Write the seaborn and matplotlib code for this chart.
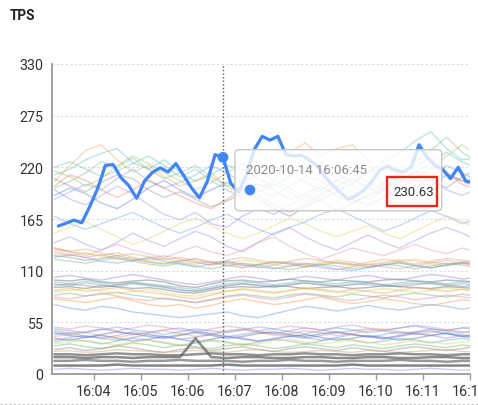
import numpy as np
import pandas as pd
import matplotlib
matplotlib.use("Agg")
import matplotlib.pyplot as plt
import matplotlib.dates as mdates
from matplotlib.patches import FancyBboxPatch, Rectangle, Circle
from matplotlib.lines import Line2D
from matplotlib.transforms import IdentityTransform
import seaborn as sns

# ---------------- data ----------------
TITLE = "TPS"
BG_START = "2020-10-14 16:03:10"   # background series, 20 s step
MAIN_START = "2020-10-14 16:03:15"  # highlighted series, 10 s step
HOVER_TIME = "2020-10-14 16:06:45"
HOVER_VALUE = 230.63
Y_TICKS = [0, 55, 110, 165, 220, 275, 330]

main_values = [157.5, 160.5, 163.8, 161, 178, 197, 222, 223, 209, 200.5,
               187, 205.5, 214.5, 219.5, 215, 224, 211, 198, 187.5, 205,
               233.5, 230.63, 203, 193.5, 212, 239, 253, 249, 253, 234,
               232, 233, 228, 222, 210, 201, 193, 186, 190, 196,
               205, 217, 221, 217, 215, 220, 244, 231, 222, 218,
               208, 220, 205, 204]

# high band
h1 = [205, 222, 238, 244, 228, 215, 222, 210, 200, 206, 214, 200, 190, 198, 205, 236, 246, 232, 240, 244, 228, 198, 210, 222, 230, 215, 205, 210]
h2 = [212, 218, 228, 235, 240, 225, 218, 228, 215, 205, 212, 222, 218, 208, 200, 210, 218, 225, 212, 204, 214, 226, 235, 248, 258, 240, 228, 230]
h3 = [198, 205, 214, 226, 220, 230, 218, 208, 214, 222, 210, 200, 206, 196, 188, 200, 210, 206, 196, 202, 215, 220, 212, 226, 238, 252, 236, 226]
h4 = [208, 200, 194, 204, 212, 208, 196, 188, 194, 186, 178, 184, 192, 202, 196, 186, 192, 200, 190, 182, 190, 198, 206, 214, 206, 198, 210, 218]
h5 = [196, 186, 180, 190, 200, 192, 180, 170, 164, 172, 160, 156, 168, 176, 170, 180, 190, 184, 174, 182, 190, 196, 188, 200, 208, 196, 190, 198]
h6 = [186, 194, 202, 196, 208, 218, 206, 198, 204, 212, 222, 214, 204, 212, 222, 214, 204, 196, 206, 214, 204, 196, 206, 216, 210, 222, 214, 206]
h7 = [216, 210, 200, 208, 222, 232, 224, 214, 206, 196, 204, 214, 224, 216, 206, 198, 188, 196, 206, 200, 192, 204, 214, 206, 218, 232, 244, 232]
h8 = [200, 212, 206, 196, 188, 196, 206, 198, 190, 182, 176, 186, 196, 190, 180, 172, 180, 190, 200, 208, 198, 190, 198, 208, 220, 214, 202, 196]
h9 = [190, 198, 192, 182, 176, 186, 198, 206, 196, 188, 196, 204, 196, 186, 176, 168, 178, 186, 194, 186, 180, 188, 198, 190, 200, 212, 206, 198]
h10 = [220, 226, 218, 210, 216, 224, 232, 222, 210, 218, 206, 196, 188, 194, 202, 194, 184, 192, 200, 194, 186, 194, 204, 214, 224, 236, 226, 218]

# scattered middle
m1 = [140, 146, 138, 132, 140, 150, 142, 136, 144, 152, 146, 136, 130, 140, 150, 156, 146, 138, 132, 140, 148, 140, 134, 142, 150, 156, 150, 142]
m2 = [150, 156, 162, 154, 146, 138, 144, 152, 160, 166, 158, 150, 144, 150, 158, 166, 160, 152, 146, 152, 158, 150, 144, 152, 160, 168, 162, 156]
m3 = [168, 160, 154, 160, 166, 172, 164, 156, 150, 156, 164, 170, 162, 154, 148, 156, 162, 170, 176, 168, 160, 152, 158, 166, 174, 168, 160, 166]
m4 = [134, 130, 126, 132, 138, 132, 128, 124, 130, 136, 130, 126, 132, 140, 146, 136, 128, 122, 128, 134, 130, 126, 132, 138, 132, 128, 134, 130]

# band around 105-135
b1 = [132, 130, 128, 126, 129, 124, 121, 123, 119, 117, 120, 118, 115, 117, 120, 118, 116, 118, 121, 119, 116, 118, 120, 122, 119, 117, 119, 121]
b2 = [128, 126, 129, 125, 122, 124, 120, 118, 121, 119, 116, 118, 121, 119, 116, 114, 117, 120, 118, 115, 117, 119, 122, 120, 117, 115, 118, 120]
b3 = [126, 124, 121, 123, 126, 122, 119, 117, 120, 123, 119, 116, 113, 116, 119, 117, 114, 116, 119, 117, 114, 116, 118, 115, 113, 116, 118, 116]
b4 = [134, 131, 133, 129, 126, 128, 125, 122, 124, 121, 118, 121, 124, 121, 118, 120, 123, 121, 118, 116, 119, 122, 120, 117, 120, 123, 121, 119]
b5 = [122, 120, 118, 121, 124, 120, 117, 115, 118, 115, 112, 115, 118, 116, 113, 111, 114, 117, 115, 112, 114, 117, 115, 112, 115, 118, 116, 113]
b6 = [124, 127, 124, 120, 118, 121, 124, 120, 117, 114, 117, 120, 117, 114, 112, 115, 118, 115, 112, 110, 113, 116, 119, 116, 113, 116, 119, 116]
b7 = [130, 127, 124, 127, 123, 120, 123, 126, 122, 119, 116, 119, 116, 113, 116, 119, 116, 113, 111, 114, 117, 114, 112, 115, 118, 121, 118, 115]

# band around 70-104
c1 = [100, 99, 101, 98, 97, 99, 100, 98, 94, 92, 96, 99, 100, 98, 99, 101, 99, 98, 100, 99, 98, 100, 101, 99, 98, 100, 99, 98]
c2 = [92, 93, 91, 94, 93, 91, 92, 90, 87, 86, 89, 92, 93, 92, 94, 93, 91, 92, 93, 91, 92, 94, 93, 92, 91, 93, 92, 91]
c3 = [96, 94, 97, 95, 93, 96, 94, 92, 89, 88, 91, 94, 96, 95, 93, 95, 97, 95, 94, 96, 95, 93, 95, 97, 96, 94, 96, 95]
c4 = [89, 91, 88, 90, 92, 89, 87, 85, 82, 80, 84, 88, 90, 88, 86, 89, 91, 89, 87, 90, 88, 86, 89, 92, 90, 88, 90, 89]
c5 = [84, 86, 83, 85, 87, 84, 82, 80, 78, 76, 79, 83, 85, 83, 81, 84, 86, 84, 82, 85, 83, 81, 84, 86, 84, 82, 85, 83]
c6 = [98, 96, 99, 97, 95, 98, 96, 94, 92, 90, 93, 96, 98, 97, 95, 97, 99, 97, 96, 98, 97, 95, 97, 99, 98, 96, 98, 97]
c7 = [80, 78, 76, 79, 82, 78, 74, 72, 74, 70, 73, 77, 80, 77, 74, 76, 79, 82, 78, 75, 77, 80, 78, 75, 73, 76, 79, 77]
c8 = [103, 105, 102, 100, 103, 106, 103, 100, 97, 95, 98, 101, 104, 102, 99, 101, 104, 102, 100, 103, 105, 102, 100, 103, 106, 104, 101, 103]
c9 = [74, 70, 68, 72, 70, 66, 64, 62, 60, 62, 64, 66, 62, 60, 64, 68, 72, 70, 67, 70, 73, 70, 68, 71, 74, 72, 69, 72]
c10 = [87, 89, 91, 88, 86, 88, 90, 87, 84, 83, 86, 88, 91, 89, 87, 89, 92, 90, 88, 86, 89, 91, 89, 87, 89, 92, 90, 88]
c11 = [82, 80, 83, 86, 83, 80, 78, 81, 79, 76, 79, 82, 84, 81, 79, 82, 85, 83, 80, 78, 81, 84, 82, 79, 81, 84, 82, 80]
c12 = [94, 96, 94, 92, 95, 97, 95, 93, 90, 88, 91, 94, 96, 94, 92, 95, 97, 95, 93, 95, 97, 95, 93, 95, 97, 95, 93, 95]

# band around 25-55
d1 = [42, 44, 40, 38, 41, 45, 42, 39, 42, 45, 43, 40, 42, 45, 43, 40, 38, 41, 44, 42, 39, 42, 45, 43, 41, 44, 42, 40]
d2 = [46, 43, 45, 48, 45, 42, 44, 47, 49, 46, 43, 46, 48, 45, 43, 46, 49, 47, 44, 46, 48, 46, 43, 45, 48, 46, 44, 47]
d3 = [38, 36, 39, 41, 38, 35, 37, 40, 37, 34, 37, 40, 38, 35, 37, 40, 42, 39, 36, 38, 41, 39, 36, 38, 41, 43, 40, 38]
d4 = [34, 37, 35, 32, 35, 38, 36, 33, 30, 33, 36, 34, 31, 34, 37, 35, 32, 35, 38, 36, 33, 35, 38, 36, 33, 36, 38, 35]
d5 = [50, 48, 51, 49, 46, 49, 52, 50, 47, 45, 48, 51, 49, 46, 48, 51, 49, 47, 50, 52, 49, 47, 49, 52, 50, 47, 49, 51]
d6 = [30, 32, 29, 27, 30, 33, 31, 28, 31, 29, 27, 30, 32, 30, 27, 29, 32, 30, 28, 31, 29, 27, 30, 32, 30, 28, 31, 29]
d7 = [40, 42, 44, 41, 39, 42, 44, 46, 43, 40, 42, 45, 47, 44, 41, 43, 46, 44, 41, 43, 46, 48, 45, 42, 44, 47, 45, 43]
d8 = [44, 41, 39, 42, 45, 43, 40, 38, 41, 44, 41, 38, 40, 43, 45, 42, 40, 43, 45, 42, 40, 38, 41, 44, 46, 43, 40, 42]
d9 = [36, 39, 41, 38, 36, 39, 42, 40, 37, 39, 42, 40, 37, 35, 38, 41, 39, 36, 39, 42, 40, 37, 40, 43, 41, 38, 41, 39]
d10 = [26, 28, 25, 27, 30, 28, 25, 23, 26, 28, 25, 27, 29, 26, 24, 27, 29, 27, 25, 28, 26, 24, 27, 29, 27, 25, 27, 30]
d11 = [48, 46, 44, 47, 50, 47, 45, 42, 45, 48, 46, 44, 47, 50, 48, 45, 43, 46, 49, 47, 44, 46, 49, 51, 48, 46, 49, 47]
d12 = [32, 34, 36, 33, 31, 34, 36, 34, 31, 33, 35, 33, 30, 32, 35, 37, 34, 32, 34, 36, 34, 31, 33, 36, 34, 32, 34, 36]

# low dark lines
e1 = [21, 21, 20, 21, 22, 21, 21, 20, 20, 21, 22, 21, 21, 20, 21, 21, 22, 21, 21, 20, 21, 21, 22, 21, 21, 20, 21, 21]
e2 = [18, 18, 17, 18, 18, 17, 18, 18, 18, 38, 18, 17, 18, 18, 17, 17, 18, 18, 17, 17, 18, 18, 17, 17, 18, 18, 17, 17]
e3 = [14, 14, 15, 14, 14, 13, 14, 14, 15, 14, 14, 14, 13, 14, 14, 15, 14, 14, 13, 14, 14, 14, 15, 14, 14, 13, 14, 14]
e4 = [9, 9, 9, 9, 10, 9, 9, 9, 9, 9, 9, 10, 9, 9, 9, 9, 9, 9, 9, 10, 9, 9, 9, 9, 9, 9, 9, 9]
e5 = [5, 6, 5, 4, 5, 6, 5, 5, 4, 5, 6, 5, 4, 5, 5, 6, 5, 4, 5, 6, 5, 5, 4, 5, 6, 5, 4, 5]
e6 = [24, 25, 23, 24, 26, 25, 24, 23, 24, 25, 24, 23, 25, 26, 24, 23, 24, 25, 24, 23, 25, 24, 23, 24, 25, 26, 24, 23]

# ---------------- styles ----------------
ORANGE, YELLOW, GREEN, TEAL = "#f0a050", "#e2cf5e", "#74b874", "#55b8b8"
BLUE, PURPLE, PINK, GRAY = "#6a9fe0", "#9484e0", "#e08cb0", "#8a8a8a"
TAN, OLIVE, RED, DBLUE = "#d6a468", "#a3bd5a", "#e07868", "#5670c0"
MAIN_BLUE = "#4285f4"

groups = [
    # (series dict, colours, linewidth, alpha)
    ({"h1": h1, "h2": h2, "h3": h3, "h4": h4, "h5": h5, "h6": h6, "h7": h7, "h8": h8, "h9": h9, "h10": h10},
     [ORANGE, TEAL, GREEN, GRAY, PURPLE, BLUE, OLIVE, RED, DBLUE, TEAL], 1.0, 0.38),
    ({"m1": m1, "m2": m2, "m3": m3, "m4": m4}, [PURPLE, YELLOW, BLUE, PINK], 1.0, 0.38),
    ({"b1": b1, "b2": b2, "b3": b3, "b4": b4, "b5": b5, "b6": b6, "b7": b7},
     [ORANGE, YELLOW, GRAY, TAN, GREEN, BLUE, PINK], 1.0, 0.42),
    ({"c1": c1, "c2": c2, "c3": c3, "c4": c4, "c5": c5, "c6": c6, "c7": c7, "c8": c8, "c9": c9, "c10": c10, "c11": c11, "c12": c12},
     ["#666666", "#666666", BLUE, ORANGE, GREEN, TEAL, ORANGE, PURPLE, BLUE, YELLOW, PINK, GRAY], 1.0, 0.45),
    ({"d1": d1, "d2": d2, "d3": d3, "d4": d4, "d5": d5, "d6": d6, "d7": d7, "d8": d8, "d9": d9, "d10": d10, "d11": d11, "d12": d12},
     [BLUE, PURPLE, DBLUE, TEAL, PINK, GREEN, ORANGE, DBLUE, PURPLE, GRAY, BLUE, YELLOW], 1.0, 0.45),
    ({"e6": e6, "e5": e5}, [TAN, PURPLE], 1.0, 0.45),
    ({"e1": e1, "e2": e2, "e3": e3, "e4": e4}, ["#6a6a6a", "#5e5e5e", "#7a7070", "#555555"], 1.8, 0.72),
]

# ---------------- figure ----------------
sns.set_theme(style="white")
plt.rcParams["font.family"] = ["Roboto", "DejaVu Sans"]

W, H, DPI = 478, 406, 100
fig = plt.figure(figsize=(W / DPI, H / DPI), dpi=DPI, facecolor="white")
ax = fig.add_axes([52 / W, 1 - 375 / H, (470 - 52) / W, (375 - 65) / H])
ax.set_facecolor("white")

for series, colours, lw, alpha in groups:
    names = list(series.keys())
    frames = []
    for name in names:
        vals = series[name]
        t = pd.date_range(BG_START, periods=len(vals), freq="20s")
        frames.append(pd.DataFrame({"time": t, "value": vals, "series": name}))
    df = pd.concat(frames, ignore_index=True)
    sns.lineplot(data=df, x="time", y="value", hue="series",
                 palette=dict(zip(names, colours)), linewidth=lw, alpha=alpha,
                 legend=False, ax=ax, zorder=2)

main_df = pd.DataFrame({"time": pd.date_range(MAIN_START, periods=len(main_values), freq="10s"),
                        "value": main_values})
sns.lineplot(data=main_df, x="time", y="value", color=MAIN_BLUE, linewidth=2.3,
             ax=ax, zorder=5, legend=False)

hover_t = pd.Timestamp(HOVER_TIME)
ax.axvline(hover_t, color="#555555", linestyle=(0, (1, 1.6)), linewidth=1.0, zorder=4)
sns.scatterplot(x=[hover_t], y=[HOVER_VALUE], color=MAIN_BLUE, s=60, ax=ax,
                zorder=6, edgecolor="none", legend=False)

# axes styling
ax.set_xlim(pd.Timestamp("2020-10-14 16:03:07"), pd.Timestamp("2020-10-14 16:12:00"))
ax.set_ylim(0, 330)
ax.set_yticks(Y_TICKS)
ax.xaxis.set_major_locator(mdates.MinuteLocator())
ax.xaxis.set_major_formatter(mdates.DateFormatter("%H:%M"))
ax.set_xlabel("")
ax.set_ylabel("")
ax.yaxis.grid(True, linestyle=(0, (2, 2)), color="#dcdcdc", linewidth=0.8)
ax.xaxis.grid(False)
ax.set_axisbelow(True)
for s in ["top", "right"]:
    ax.spines[s].set_visible(False)
for s in ["left", "bottom"]:
    ax.spines[s].set_color("#999999")
    ax.spines[s].set_linewidth(1.3)
ax.tick_params(axis="y", length=0, pad=6, labelsize=10.3, labelcolor="#333333")
ax.tick_params(axis="x", length=4, width=1, color="#999999", pad=3, labelsize=10.3,
               labelcolor="#333333", bottom=True)

# title
fig.text(9.5 / W, 1 - 16 / H, TITLE, fontsize=9.8, fontweight="bold", color="#222222",
         ha="left", va="center")

# tooltip
ident = IdentityTransform()
box = FancyBboxPatch((235, H - 211.7), 206.7, 61, boxstyle="round,pad=0,rounding_size=4",
                     transform=ident, facecolor=(1, 1, 1, 0.8), edgecolor="#c8c8c8",
                     linewidth=1.0, zorder=10)
fig.add_artist(box)
fig.text(246 / W, 1 - 170.5 / H, hover_t.strftime("%Y-%m-%d %H:%M:%S"), fontsize=9.5,
         color="#8c8c8c", ha="left", va="center", zorder=11)
fig.add_artist(Circle((250, H - 191), 4.6, transform=ident, color=MAIN_BLUE, zorder=11))
fig.text(434.5 / W, 1 - 192.5 / H, f"{HOVER_VALUE:.2f}", fontsize=9.5, color="#333333",
         ha="right", va="center", zorder=11)
fig.add_artist(Rectangle((387.3, H - 207.3), 50, 29, transform=ident, fill=False,
                         edgecolor="#e5281e", linewidth=1.7, zorder=12))

# dotted bottom border
fig.add_artist(Line2D([0, 1], [1 - 404.5 / H, 1 - 404.5 / H], transform=fig.transFigure,
                      color="#bdbdbd", linestyle=(0, (2, 2)), linewidth=0.8))

fig.savefig("out.png", dpi=DPI, facecolor="white")
